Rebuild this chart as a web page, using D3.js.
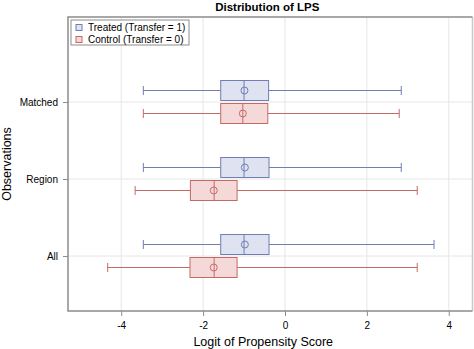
<!DOCTYPE html>
<html>
<head>
<meta charset="utf-8">
<script src="https://cdn.jsdelivr.net/npm/d3@7"></script>
<style>
  body { margin: 0; background: #fff; }
  text { font-family: "Liberation Sans", Arial, sans-serif; fill: #000; }
</style>
</head>
<body>
<div id="d3-container"></div>
<script>
/**
 * CONSTANTS AND GLOBALS
 * */
const width = 474,
  height = 349,
  margin = { top: 17, bottom: 38, left: 68, right: 1 };

// categories + groups
const categories = ["Matched", "Region", "All"];
const groups = ["Treated (Transfer = 1)", "Control (Transfer = 0)"];
const xTicks = [-4, -2, 0, 2, 4];

// box stats, one value per category (Matched, Region, All)
const treatedMin = [-3.46, -3.46, -3.46];
const treatedQ1 = [-1.57, -1.57, -1.57];
const treatedMedian = [-1.0, -1.0, -1.0];
const treatedMean = [-0.99, -0.98, -0.98];
const treatedQ3 = [-0.40, -0.39, -0.39];
const treatedMax = [2.84, 2.84, 3.64];

const controlMin = [-3.46, -3.66, -4.33];
const controlQ1 = [-1.57, -2.31, -2.32];
const controlMedian = [-1.03, -1.73, -1.73];
const controlMean = [-1.03, -1.74, -1.74];
const controlQ3 = [-0.42, -1.17, -1.17];
const controlMax = [2.79, 3.23, 3.23];

const strokeColors = ["#6f7eb3", "#c46a66"];
const fillColors = ["#dfe2f0", "#f5d9d8"];

// build rows for the join
const boxes = [];
categories.forEach((c, i) => {
  boxes.push({ cat: c, group: groups[0], min: treatedMin[i], q1: treatedQ1[i], med: treatedMedian[i], mean: treatedMean[i], q3: treatedQ3[i], max: treatedMax[i] });
  boxes.push({ cat: c, group: groups[1], min: controlMin[i], q1: controlQ1[i], med: controlMedian[i], mean: controlMean[i], q3: controlQ3[i], max: controlMax[i] });
});

const svg = d3.select("#d3-container")
  .append("svg")
  .attr("width", width)
  .attr("height", height);

const plotLeft = margin.left,
  plotRight = width - margin.right - 0.5,
  plotTop = margin.top,
  plotBottom = height - margin.bottom;

// SCALES
const xScale = d3.scaleLinear()
  .domain([-5.3, 4.58])
  .range([plotLeft, plotRight]);

const yScale = d3.scalePoint()
  .domain(categories)
  .range([plotTop + 85, plotBottom - 55]);

const offset = d3.scaleBand()
  .domain(groups)
  .range([-21.5, 21.5])
  .paddingInner(0.13);

const color = d3.scaleOrdinal().domain(groups).range(strokeColors);
const fill = d3.scaleOrdinal().domain(groups).range(fillColors);

// GRIDLINES
svg.append("g")
  .selectAll("line")
  .data(xTicks)
  .join("line")
  .attr("x1", d => xScale(d)).attr("x2", d => xScale(d))
  .attr("y1", plotTop).attr("y2", plotBottom)
  .attr("stroke", "#e6e6e6");

svg.append("g")
  .selectAll("line")
  .data(categories)
  .join("line")
  .attr("x1", plotLeft).attr("x2", plotRight)
  .attr("y1", d => yScale(d)).attr("y2", d => yScale(d))
  .attr("stroke", "#e6e6e6");

// BOXES
const box = svg.append("g")
  .selectAll("g.box")
  .data(boxes)
  .join("g")
  .attr("class", "box")
  .attr("transform", d => `translate(0,${yScale(d.cat) + offset(d.group) + offset.bandwidth() / 2})`);

const bw = offset.bandwidth();

box.append("line") // lower whisker
  .attr("x1", d => xScale(d.min)).attr("x2", d => xScale(d.q1))
  .attr("stroke", d => color(d.group));
box.append("line") // upper whisker
  .attr("x1", d => xScale(d.q3)).attr("x2", d => xScale(d.max))
  .attr("stroke", d => color(d.group));
box.append("line") // caps
  .attr("x1", d => xScale(d.min)).attr("x2", d => xScale(d.min))
  .attr("y1", -4.5).attr("y2", 4.5)
  .attr("stroke", d => color(d.group));
box.append("line")
  .attr("x1", d => xScale(d.max)).attr("x2", d => xScale(d.max))
  .attr("y1", -4.5).attr("y2", 4.5)
  .attr("stroke", d => color(d.group));
box.append("rect")
  .attr("x", d => xScale(d.q1))
  .attr("width", d => xScale(d.q3) - xScale(d.q1))
  .attr("y", -bw / 2)
  .attr("height", bw)
  .attr("fill", d => fill(d.group))
  .attr("stroke", d => color(d.group));
box.append("line") // median
  .attr("x1", d => xScale(d.med)).attr("x2", d => xScale(d.med))
  .attr("y1", -bw / 2).attr("y2", bw / 2)
  .attr("stroke", d => color(d.group));
box.append("circle") // mean
  .attr("cx", d => xScale(d.mean))
  .attr("r", 3.5)
  .attr("fill", "none")
  .attr("stroke", d => color(d.group));

// FRAME
svg.append("line")
  .attr("x1", plotRight).attr("x2", plotRight)
  .attr("y1", plotTop).attr("y2", plotBottom)
  .attr("stroke", "#c8c8c8").attr("stroke-width", 1.5);
svg.append("path")
  .attr("d", `M${plotRight},${plotTop}H${plotLeft}V${plotBottom}H${plotRight}`)
  .attr("fill", "none")
  .attr("stroke", "#8c8c8c")
  .attr("stroke-width", 1.5);

// AXES
const xAxis = svg.append("g")
  .attr("transform", `translate(0,${plotBottom})`)
  .call(d3.axisBottom(xScale).tickValues(xTicks).tickFormat(d => String(d)).tickSize(5).tickPadding(6));
const yAxis = svg.append("g")
  .attr("transform", `translate(${plotLeft},0)`)
  .call(d3.axisLeft(yScale).tickSize(5).tickPadding(5));

[xAxis, yAxis].forEach(a => {
  a.select(".domain").remove();
  a.selectAll(".tick line").attr("stroke", "#8c8c8c");
  a.selectAll(".tick text")
    .attr("font-family", "Liberation Sans, Arial, sans-serif")
    .attr("font-size", 10)
    .attr("fill", "#000");
});

// LEGEND
const legend = svg.append("g").attr("transform", `translate(${plotLeft + 3},${plotTop + 3})`);
legend.append("rect")
  .attr("width", 118).attr("height", 25)
  .attr("fill", "#fff")
  .attr("stroke", "#8c8c8c");
const item = legend.selectAll("g.item")
  .data(groups)
  .join("g")
  .attr("class", "item")
  .attr("transform", (d, i) => `translate(5,${7.5 + i * 12})`);
item.append("rect")
  .attr("x", 0).attr("y", -3).attr("width", 6).attr("height", 6)
  .attr("fill", d => fill(d))
  .attr("stroke", d => color(d));
item.append("text")
  .attr("x", 12).attr("y", 3.5)
  .attr("font-size", 10)
  .text(d => d);

// TITLES
svg.append("text")
  .attr("x", (plotLeft + plotRight) / 2 - 3)
  .attr("y", 11)
  .attr("text-anchor", "middle")
  .attr("font-weight", "bold")
  .attr("font-size", 11.5)
  .text("Distribution of LPS");

svg.append("text")
  .attr("x", (plotLeft + plotRight) / 2 - 7)
  .attr("y", 346)
  .attr("text-anchor", "middle")
  .attr("font-size", 12.5)
  .text("Logit of Propensity Score");

svg.append("text")
  .attr("transform", `translate(11,${(plotTop + plotBottom) / 2}) rotate(-90)`)
  .attr("text-anchor", "middle")
  .attr("font-size", 12.5)
  .text("Observations");
</script>
</body>
</html>
